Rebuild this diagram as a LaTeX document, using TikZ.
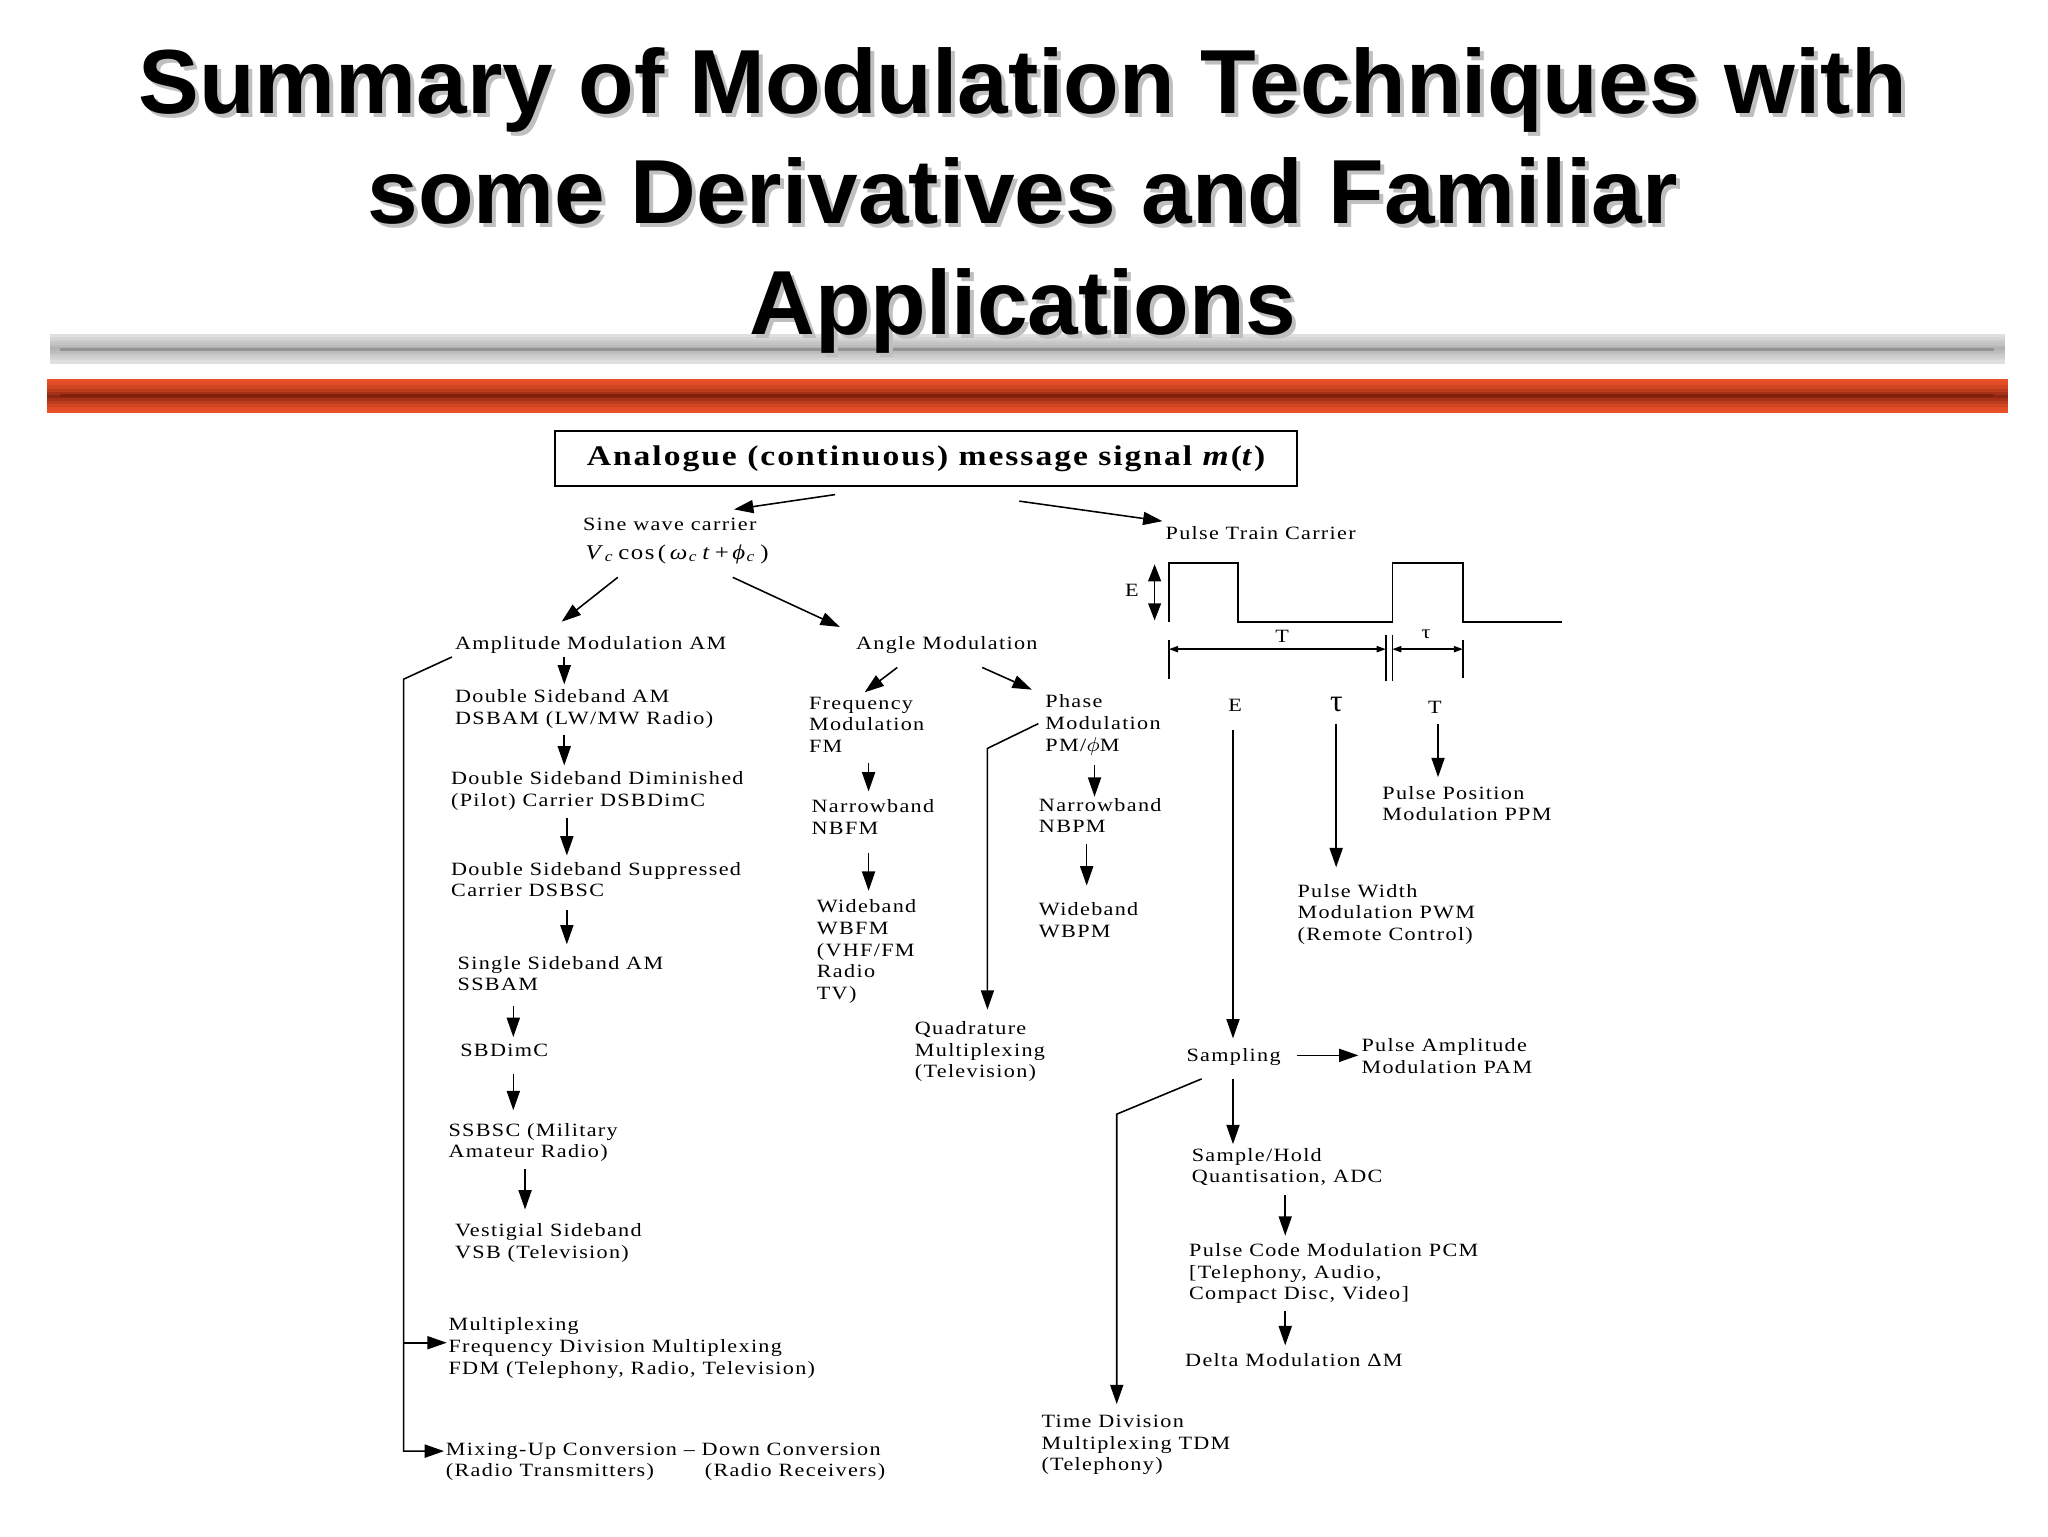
\documentclass[tikz,border=0pt]{standalone}
\usepackage{fontspec}
\setmainfont{Liberation Serif}
\newfontfamily\dfont[FakeStretch=1.18,LetterSpace=7]{Liberation Serif}
\newfontfamily\titlefont{Liberation Sans}
\usetikzlibrary{arrows.meta,calc}
\definecolor{obar}{RGB}{232,80,40}
\definecolor{odark}{RGB}{130,32,14}
\newcommand\mlines[1]{\begin{tabular}[t]{@{}l@{}}#1\end{tabular}}
\newcommand\mctr[1]{\begin{tabular}[t]{@{}c@{}}#1\end{tabular}}
\begin{document}
\begin{tikzpicture}[x=0.4592pt,y=-0.4592pt,
  txt/.style={anchor=base west, inner sep=0pt, font=\dfont\fontsize{6.6}{7.6}\selectfont},
  ttl/.style={anchor=base, inner sep=0pt, font=\titlefont\bfseries\fontsize{32}{38.8}\selectfont},
  arr/.style={-{Triangle[length=6.8pt,width=4.6pt]}, line width=0.55pt},
  ln/.style={line width=0.55pt},
  dimarr/.style={{Triangle[length=3.2pt,width=2.2pt]}-{Triangle[length=3.2pt,width=2.2pt]}, line width=0.5pt},
  bigdbl/.style={{Triangle[length=6pt,width=4.5pt]}-{Triangle[length=6pt,width=4.5pt]}, line width=0.55pt}]
\useasboundingbox (0,0) rectangle (1568,1176);
% bars
\foreach \i in {0,...,10}{
  \pgfmathsetmacro\p{25+35*(1-abs(\i-5)/5)}
  \fill[gray!\p] (38,256+2*\i) rectangle (1535,258.4+2*\i);
  \pgfmathsetmacro\q{90*(1-abs(\i-5)/5)^1.5}
  \fill[odark!\q!obar] (36,290.5+2.32*\i) rectangle (1537,293.3+2.32*\i);
}
\draw[gray!85, line width=1pt] (46,267.5) -- (1527,267.5);
\draw[odark, line width=1pt] (46,303) -- (1527,303);
% title
\node[ttl, text=gray!50] (titleshadow) at (786,90) {\mctr{Summary of Modulation Techniques with\\some Derivatives and Familiar\\Applications}};
\node[ttl, text=black] (title) at (783,87) {\mctr{Summary of Modulation Techniques with\\some Derivatives and Familiar\\Applications}};
% top box
\node[draw, line width=0.6pt, minimum width=260.8pt, minimum height=19.3pt, inner sep=0pt,
  font=\dfont\bfseries\fontsize{10}{12}\selectfont] (box) at (709,351) {Analogue (continuous) message signal \textit{m}(\textit{t})};
% nodes
\node[txt] (sine) at (446,406) {Sine wave carrier};
\node[txt, font=\dfont\fontsize{7.4}{8}\selectfont] (formula) at (448,428) {\textit{V}\textsubscript{\textit{c}}\,cos\,(\,\textit{ω}\textsubscript{\textit{c}}\,\textit{t}\,+\,\textit{ϕ}\textsubscript{\textit{c}}\,)};
\node[txt] (ptc) at (892,413) {Pulse Train Carrier};
\node[txt] (am) at (348,497) {Amplitude Modulation AM};
\node[txt] (angle) at (655,497) {Angle Modulation};
\node[txt] (dsb) at (348,538) {\mlines{Double Sideband AM\\DSBAM (LW/MW Radio)}};
\node[txt] (dsbd) at (345,601) {\mlines{Double Sideband Diminished\\(Pilot) Carrier DSBDimC}};
\node[txt] (dsbsc) at (345,670) {\mlines{Double Sideband Suppressed\\Carrier DSBSC}};
\node[txt] (ssb) at (350,742) {\mlines{Single Sideband AM\\SSBAM}};
\node[txt] (sbd) at (352,809) {SBDimC};
\node[txt] (ssbsc) at (343,870) {\mlines{SSBSC (Military\\Amateur Radio)}};
\node[txt] (vsb) at (348,947) {\mlines{Vestigial Sideband\\VSB (Television)}};
\node[txt] (mux) at (343,1019) {\mlines{Multiplexing\\Frequency Division Multiplexing\\FDM (Telephony, Radio, Television)}};
\node[txt] (mix) at (341,1114) {\begin{tabular}[t]{@{}l@{}l@{}}Mixing-Up Conversion – \null&Down Conversion\\(Radio Transmitters)&\,(Radio Receivers)\end{tabular}};
\node[txt] (fm) at (619,543) {\mlines{Frequency\\Modulation\\FM}};
\node[txt] (nbfm) at (621,622) {\mlines{Narrowband\\NBFM}};
\node[txt] (wbfm) at (625,699) {\mlines{Wideband\\WBFM\\(VHF/FM\\Radio\\TV)}};
\node[txt] (pm) at (800,542) {\mlines{Phase\\Modulation\\PM/$\phi$M}};
\node[txt] (nbpm) at (795,621) {\mlines{Narrowband\\NBPM}};
\node[txt] (wbpm) at (795,701) {\mlines{Wideband\\WBPM}};
\node[txt] (quad) at (700,792) {\mlines{Quadrature\\Multiplexing\\(Television)}};
\node[txt] (eL) at (940,545) {E};
\node[txt, font=\fontsize{11}{11}\selectfont] (tauL) at (1018,545) {τ};
\node[txt] (tL) at (1093,546) {T};
\node[txt] (ppm) at (1058,612) {\mlines{Pulse Position\\Modulation PPM}};
\node[txt] (pwm) at (993,687) {\mlines{Pulse Width\\Modulation PWM\\(Remote Control)}};
\node[txt] (samp) at (908,813) {Sampling};
\node[txt] (pam) at (1042,805) {\mlines{Pulse Amplitude\\Modulation PAM}};
\node[txt] (sh) at (912,889) {\mlines{Sample/Hold\\Quantisation, ADC}};
\node[txt] (pcm) at (910,962) {\mlines{Pulse Code Modulation PCM\\{}[Telephony, Audio,\\Compact Disc, Video]}};
\node[txt] (dm) at (907,1046) {Delta Modulation ΔM};
\node[txt] (tdm) at (797,1093) {\mlines{Time Division\\Multiplexing TDM\\(Telephony)}};
% pulse train drawing
\node[txt] (elab) at (861,457) {E};
\node[txt] (tlab) at (976,492) {T};
\node[txt] (taulab) at (1088,489) {τ};
\draw[ln] (895,476) -- (895,431) -- (948,431) -- (948,476) -- (1066,476) -- (1066,431) -- (1120,431) -- (1120,476) -- (1196,476);
\draw[bigdbl] (884,432) -- (884,475);
\draw[ln] (895,490) -- (895,520) (1061,486) -- (1061,521) (1066,486) -- (1066,521) (1120,490) -- (1120,519);
\draw[dimarr] (895,497) -- (1061,497);
\draw[dimarr] (1066,497) -- (1120,497);
% connectors
\draw[arr] ($(box.south west)+(215,6)$) -- ($(sine.base west)+(116,-16)$);
\draw[arr] ($(box.south west)+(356,11)$) -- ($(ptc.base west)+(-2,-14)$);
\draw[arr] ($(formula.base west)+(25,14)$) -- ($(am.base west)+(82,-21)$);
\draw[arr] ($(formula.base west)+(113,14)$) -- ($(angle.base west)+(-12,-17)$);
\draw[arr] ($(am.base west)+(84,6)$) -- ($(dsb.base west)+(84,-14)$);
\draw[arr] ($(dsb.base west)+(84,25)$) -- ($(dsbd.base west)+(87,-15)$);
\draw[arr] ($(dsbd.base west)+(89,25)$) -- ($(dsbsc.base west)+(89,-15)$);
\draw[arr] ($(dsbsc.base west)+(89,27)$) -- ($(ssb.base west)+(84,-19)$);
\draw[arr] ($(ssb.base west)+(43,28)$) -- ($(sbd.base west)+(41,-15)$);
\draw[arr] ($(sbd.base west)+(41,13)$) -- ($(ssbsc.base west)+(50,-20)$);
\draw[arr] ($(ssbsc.base west)+(59,25)$) -- ($(vsb.base west)+(54,-21)$);
\draw[arr] ($(am.base west)+(-2,6)$) -- ($(am.base west)+(-39,23)$) |- ($(mix.base west)+(-1,-3)$);
\draw[arr] ($(mux.base west)+(-34,9)$) -- ($(mux.base west)+(-1,9)$);
\draw[arr] ($(angle.base west)+(32,14)$) -- ($(fm.base west)+(43,-13)$);
\draw[arr] ($(angle.base west)+(97,14)$) -- ($(pm.base west)+(-10,-14)$);
\draw[arr] ($(fm.base west)+(46,41)$) -- ($(nbfm.base west)+(44,-16)$);
\draw[arr] ($(nbfm.base west)+(44,31)$) -- ($(wbfm.base west)+(40,-17)$);
\draw[arr] ($(pm.base west)+(38,44)$) -- ($(nbpm.base west)+(43,-11)$);
\draw[arr] ($(nbpm.base west)+(37,25)$) -- ($(wbpm.base west)+(37,-23)$);
\draw[arr] ($(pm.base west)+(-5,12)$) -- ($(pm.base west)+(-44,31)$) -- ($(quad.base west)+(56,-19)$);
\draw[arr] ($(eL.base west)+(4,14)$) -- ($(samp.base west)+(36,-18)$);
\draw[arr] ($(tauL.base west)+(5,9)$) -- ($(pwm.base west)+(30,-23)$);
\draw[arr] ($(tL.base west)+(8,8)$) -- ($(ppm.base west)+(43,-17)$);
\draw[arr] ($(samp.base west)+(85,-5)$) -- ($(pam.base west)+(-2,3)$);
\draw[arr] ($(samp.base west)+(36,13)$) -- ($(sh.base west)+(32,-13)$);
\draw[arr] ($(samp.base west)+(12,13)$) -- ($(samp.base west)+(-53,40)$) -- ($(tdm.base west)+(58,-18)$);
\draw[arr] ($(sh.base west)+(72,26)$) -- ($(pcm.base west)+(74,-16)$);
\draw[arr] ($(pcm.base west)+(74,42)$) -- ($(dm.base west)+(77,-16)$);
\end{tikzpicture}
\end{document}
